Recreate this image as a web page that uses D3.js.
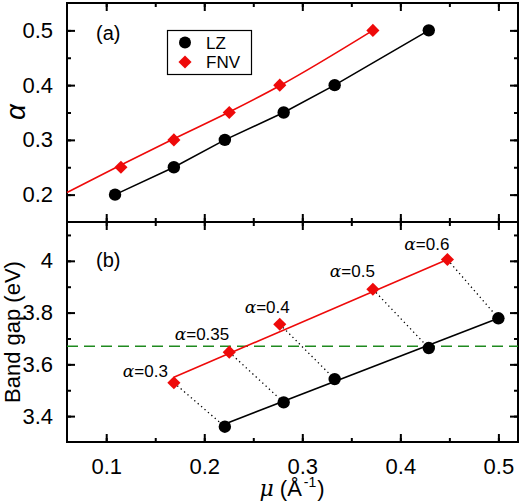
<!DOCTYPE html>
<html>
<head>
<meta charset="utf-8">
<script src="https://cdn.jsdelivr.net/npm/d3@7"></script>
<style>
body{margin:0;background:#fff;}
text{font-family:"Liberation Sans",Arial,Helvetica,sans-serif;}
</style>
</head>
<body>
<div id="chart"></div>
<script>
// panel (a): alpha vs mu
var muLZa=[0.109,0.169,0.221,0.281,0.333,0.429];
var alphaLZa=[0.2,0.25,0.3,0.35,0.4,0.5];
var muFNVa=[0.115,0.169,0.2255,0.277,0.372];
var alphaFNVa=[0.25,0.3,0.35,0.4,0.5];
// fitted curve for FNV in (a), runs out to the left frame
var fitMuFNVa=[0.06,0.115,0.169,0.2255,0.277,0.372];
var fitAlphaFNVa=[0.204,0.254,0.302,0.351,0.399,0.5];

// panel (b): band gap vs mu
var alphaB=["0.3","0.35","0.4","0.5","0.6"];
var muFNVb=[0.169,0.2255,0.277,0.372,0.448];
var gapFNVb=[3.529,3.647,3.755,3.890,4.005];
var muLZb=[0.221,0.281,0.333,0.429,0.5];
var gapLZb=[3.359,3.453,3.543,3.663,3.778];
var fitMuFNVb=[0.169,0.448];
var fitGapFNVb=[3.55,4.005];
var fitMuLZb=[0.221,0.5];
var fitGapLZb=[3.37,3.778];
var expGap=3.67;

var xTicks=[0.1,0.2,0.3,0.4,0.5];
var yTicksA=[0.2,0.3,0.4,0.5];
var yTicksB=[3.4,3.6,3.8,4];

var red="#ee0a0a";
var padL=67,padR=518,padT=3,padMid=222,padB=442;

var svg=d3.select("#chart").append("svg")
	.attr("width",520)
	.attr("height",503);

var x=d3.scaleLinear().domain([0.06,0.52]).range([padL,padR]);
var ya=d3.scaleLinear().domain([0.15,0.55]).range([padMid,padT]);
var yb=d3.scaleLinear().domain([3.3,4.15]).range([padB,padMid]);

var xMinor=d3.range(0.1,0.52,0.05).map(function(d){return +d.toFixed(2);});
var yMinorA=d3.range(0.2,0.55,0.05).map(function(d){return +d.toFixed(2);});
var yMinorB=d3.range(3.4,4.15,0.1).map(function(d){return +d.toFixed(1);});

function frame(y,yTicks,yMinor,yFmt,showX){
	var y0=y.range()[0],y1=y.range()[1];
	// minor ticks first
	svg.append("g").attr("transform","translate(0,"+y0+")")
		.call(d3.axisBottom(x).tickValues(xMinor).tickSize(-4).tickFormat(""));
	svg.append("g").attr("transform","translate(0,"+y1+")")
		.call(d3.axisTop(x).tickValues(xMinor).tickSize(-4).tickFormat(""));
	svg.append("g").attr("transform","translate("+padL+",0)")
		.call(d3.axisLeft(y).tickValues(yMinor).tickSize(-4).tickFormat(""));
	svg.append("g").attr("transform","translate("+padR+",0)")
		.call(d3.axisRight(y).tickValues(yMinor).tickSize(-4).tickFormat(""));
	// major ticks
	svg.append("g").attr("transform","translate(0,"+y0+")")
		.call(d3.axisBottom(x).tickValues(xTicks).tickSize(-8).tickPadding(16)
			.tickFormat(showX?d3.format(".1f"):""));
	svg.append("g").attr("transform","translate(0,"+y1+")")
		.call(d3.axisTop(x).tickValues(xTicks).tickSize(-8).tickFormat(""));
	svg.append("g").attr("transform","translate("+padL+",0)")
		.call(d3.axisLeft(y).tickValues(yTicks).tickSize(-8).tickPadding(14).tickFormat(yFmt));
	svg.append("g").attr("transform","translate("+padR+",0)")
		.call(d3.axisRight(y).tickValues(yTicks).tickSize(-8).tickFormat(""));
	svg.append("rect")
		.attr("x",padL).attr("y",y1)
		.attr("width",padR-padL).attr("height",y0-y1)
		.attr("fill","none").attr("stroke","black").attr("stroke-width",2);
}

frame(ya,yTicksA,yMinorA,d3.format(".1f"),false);
frame(yb,yTicksB,yMinorB,function(d){return d==4?"4":d3.format(".1f")(d);},true);

svg.selectAll(".domain").remove();
svg.selectAll(".tick line").attr("stroke","black").attr("stroke-width",2);
svg.selectAll(".tick text").attr("font-size",22).attr("fill","black")
	.attr("font-family","Liberation Sans, Arial, sans-serif");

// panel (a)
var lineA=d3.line().x(function(d){return x(d[0]);}).y(function(d){return ya(d[1]);});
svg.append("path")
	.attr("d",lineA.curve(d3.curveMonotoneX)(d3.zip(fitMuFNVa,fitAlphaFNVa)))
	.attr("fill","none").attr("stroke",red).attr("stroke-width",1.6);
svg.append("path")
	.attr("d",d3.line().x(function(d){return x(d[0]);}).y(function(d){return ya(d[1]);})(d3.zip(muLZa,alphaLZa)))
	.attr("fill","none").attr("stroke","black").attr("stroke-width",1.6);

var diamond=d3.symbol().type(d3.symbolDiamond2).size(110);

svg.selectAll(".lza").data(d3.zip(muLZa,alphaLZa)).enter().append("circle")
	.attr("cx",function(d){return x(d[0]);})
	.attr("cy",function(d){return ya(d[1]);})
	.attr("r",6.2).attr("fill","black");
svg.selectAll(".fnva").data(d3.zip(muFNVa,alphaFNVa)).enter().append("path")
	.attr("d",diamond)
	.attr("transform",function(d){return "translate("+x(d[0])+","+ya(d[1])+")";})
	.attr("fill",red);

// panel (b)
var lineB=d3.line().x(function(d){return x(d[0]);}).y(function(d){return yb(d[1]);});
svg.append("line")
	.attr("x1",padL).attr("x2",padR)
	.attr("y1",yb(expGap)).attr("y2",yb(expGap))
	.attr("stroke","#1f8a1f").attr("stroke-width",1.6)
	.attr("stroke-dasharray","11,6");
// dotted connectors between equal alpha
svg.selectAll(".conn").data(d3.range(alphaB.length)).enter().append("line")
	.attr("x1",function(i){return x(muFNVb[i]);})
	.attr("y1",function(i){return yb(gapFNVb[i]);})
	.attr("x2",function(i){return x(muLZb[i]);})
	.attr("y2",function(i){return yb(gapLZb[i]);})
	.attr("stroke","black").attr("stroke-width",1.3)
	.attr("stroke-dasharray","1.3,3.2");
svg.append("path")
	.attr("d",lineB(d3.zip(fitMuFNVb,fitGapFNVb)))
	.attr("fill","none").attr("stroke",red).attr("stroke-width",1.6);
svg.append("path")
	.attr("d",lineB(d3.zip(fitMuLZb,fitGapLZb)))
	.attr("fill","none").attr("stroke","black").attr("stroke-width",1.6);

svg.selectAll(".lzb").data(d3.zip(muLZb,gapLZb)).enter().append("circle")
	.attr("cx",function(d){return x(d[0]);})
	.attr("cy",function(d){return yb(d[1]);})
	.attr("r",6.2).attr("fill","black");
svg.selectAll(".fnvb").data(d3.zip(muFNVb,gapFNVb)).enter().append("path")
	.attr("d",diamond)
	.attr("transform",function(d){return "translate("+x(d[0])+","+yb(d[1])+")";})
	.attr("fill",red);

// alpha labels beside the FNV points
var labDx=[-6,0,10,2,2];
var labDy=[-6,-12,-11,-12,-10];
var labs=svg.selectAll(".alab").data(d3.range(alphaB.length)).enter().append("text")
	.attr("x",function(i){return x(muFNVb[i])+labDx[i];})
	.attr("y",function(i){return yb(gapFNVb[i])+labDy[i];})
	.attr("text-anchor","end")
	.attr("font-size",17);
labs.append("tspan").attr("font-style","italic")
	.attr("font-family","DejaVu Serif, serif").text("α");
labs.append("tspan").text(function(i){return "="+alphaB[i];});

// panel labels
svg.append("text").attr("x",96).attr("y",40).attr("font-size",20).text("(a)");
svg.append("text").attr("x",96).attr("y",267).attr("font-size",20).text("(b)");

// legend
var lg=svg.append("g");
lg.append("rect").attr("x",167.5).attr("y",30.5).attr("width",84).attr("height",44)
	.attr("fill","white").attr("stroke","black").attr("stroke-width",1.2);
lg.append("circle").attr("cx",185).attr("cy",42.5).attr("r",6).attr("fill","black");
lg.append("path").attr("d",diamond).attr("transform","translate(185,62)").attr("fill",red);
lg.append("text").attr("x",206).attr("y",48.5).attr("font-size",17).text("LZ");
lg.append("text").attr("x",206).attr("y",68).attr("font-size",17).text("FNV");

// axis titles
svg.append("text")
	.attr("transform","translate(25,112) rotate(-90)")
	.attr("text-anchor","middle")
	.attr("font-size",28).attr("font-style","italic")
	.attr("font-family","DejaVu Serif, serif")
	.text("α");
svg.append("text")
	.attr("transform","translate(20,332) rotate(-90)")
	.attr("text-anchor","middle")
	.attr("font-size",22)
	.text("Band gap (eV)");
var xt=svg.append("text")
	.attr("x",292).attr("y",496)
	.attr("text-anchor","middle")
	.attr("font-size",22);
xt.append("tspan").attr("font-style","italic").attr("font-family","DejaVu Serif, serif").text("μ");
xt.append("tspan").text("  (Å");
xt.append("tspan").attr("dy",-9).attr("dx",2).attr("font-size",14).text("-1");
xt.append("tspan").attr("dy",9).attr("dx",1).text(")");
</script>
</body>
</html>
